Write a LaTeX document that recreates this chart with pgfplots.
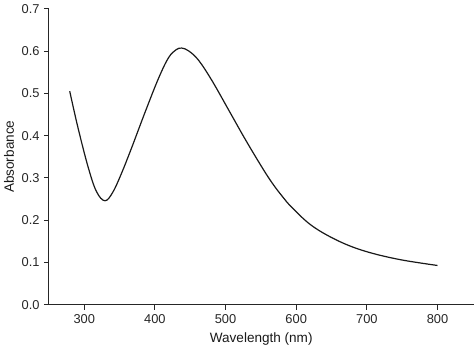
\documentclass[border=0pt]{standalone}
\usepackage{pgfplots}
\pgfplotsset{compat=1.18}
\usepackage{fontspec}
\setmainfont{Liberation Sans}
\begin{document}
\fontsize{12.5}{15}\selectfont
\begin{tikzpicture}
\begin{axis}[
  scale only axis,
  width=423pt, height=295pt,
  xmin=250, xmax=851, ymin=0, ymax=0.7,
  axis x line=bottom, axis y line=left,
  axis line style={-, line width=1pt, black!85},
  xtick={300,400,500,600,700,800},
  ytick={0,0.1,0.2,0.3,0.4,0.5,0.6,0.7},
  yticklabel style={/pgf/number format/fixed, /pgf/number format/fixed zerofill, /pgf/number format/precision=1},
  /pgf/number format/assume math mode=true,
  tick align=outside,
  major tick length=5pt,
  tick style={line width=1pt, black!85},
  ticklabel style={font=\fontsize{12.8}{15}\selectfont, text=black!85},
  label style={font=\fontsize{13.5}{15}\selectfont, text=black!90},
  xlabel={Wavelength (nm)},
  ylabel={Absorbance},
  xlabel style={yshift=-1pt},
  ylabel style={yshift=-1pt},
  clip=false,
]
\addplot[line width=1.2pt, black!90, smooth, tension=0.6] coordinates {
(279.4,0.505)
(291.2,0.418)
(305.4,0.326)
(317.2,0.268)
(329.2,0.246)
(340,0.265)
(352,0.308)
(367,0.371)
(386,0.455)
(405,0.535)
(419.2,0.584)
(430,0.603)
(438,0.607)
(448,0.600)
(461.9,0.578)
(480.8,0.530)
(504.6,0.460)
(528.3,0.390)
(552,0.324)
(566,0.288)
(580,0.257)
(594.6,0.229)
(623,0.186)
(661,0.150)
(699,0.126)
(746.4,0.107)
(800,0.093)
};
\end{axis}
\end{tikzpicture}
\end{document}
